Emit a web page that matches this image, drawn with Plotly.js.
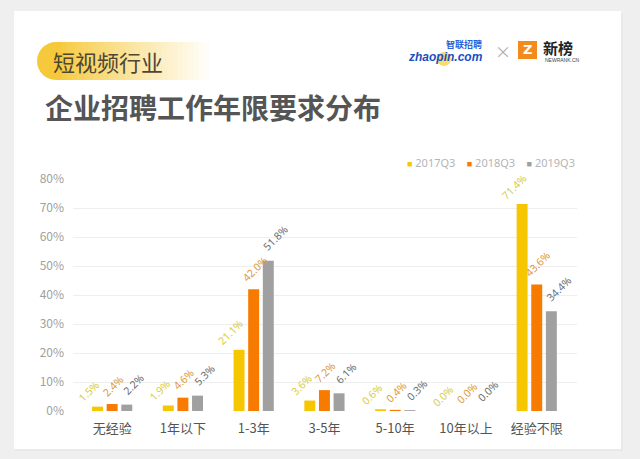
<!DOCTYPE html>
<html>
<head>
<meta charset="utf-8">
<script src="https://cdn.plot.ly/plotly-3.0.1.min.js"></script>
<style>html,body{margin:0;padding:0;background:#efefef;}#chart{width:640px;height:459px;}</style>
</head>
<body>
<div id="chart"></div>
<script>
// ---- data ----
const categories = ['无经验', '1年以下', '1-3年', '3-5年', '5-10年', '10年以上', '经验不限'];
const seriesNames = ['2017Q3', '2018Q3', '2019Q3'];
const values2017 = [1.5, 1.9, 21.1, 3.6, 0.6, 0.0, 71.4];
const values2018 = [2.4, 4.6, 42.0, 7.2, 0.4, 0.0, 43.6];
const values2019 = [2.2, 5.3, 51.8, 6.1, 0.3, 0.0, 34.4];
const yTickVals = [0, 10, 20, 30, 40, 50, 60, 70, 80];
const yTickText = ['0%', '10%', '20%', '30%', '40%', '50%', '60%', '70%', '80%'];
const headerTag = '短视频行业';
const mainTitle = '企业招聘工作年限要求分布';

// ---- styles ----
const barColors = ['#f6c700', '#f77b00', '#a0a0a0'];
const labelColors = ['#d9cd45', '#dc9a3c', '#6e6e6e'];
const labelShiftX = [-8, 1, 7];
const labelShiftY = [-1, 2, 4];
const FONT = '"Noto Sans CJK SC", "Noto Sans", sans-serif';
const W = 640, H = 459;
const M = {l: 73, r: 63, t: 179, b: 48};
const PW = W - M.l - M.r, PH = H - M.t - M.b;
const px = x => (x - M.l) / PW;
const py = y => (H - M.b - y) / PH;
const BARGAP = 0.38, GROUPGAP = 0.25;
const slot = (PW / categories.length) * (1 - BARGAP) / seriesNames.length;

const seriesValues = [values2017, values2018, values2019];
const traces = seriesValues.map((vals, i) => ({
  type: 'bar',
  name: seriesNames[i],
  x: categories,
  y: vals,
  marker: {color: barColors[i]},
  showlegend: false,
  hoverinfo: 'skip'
}));

// ---- value labels (annotations anchored to data) ----
const labelAnns = [];
seriesValues.forEach((vals, i) => {
  vals.forEach((v, j) => {
    labelAnns.push({
      x: categories[j], y: v, xref: 'x', yref: 'y',
      text: v.toFixed(1) + '%',
      textangle: -45,
      showarrow: false,
      xanchor: 'center', yanchor: 'bottom',
      xshift: (i - 1) * slot + labelShiftX[i],
      yshift: labelShiftY[i],
      font: {family: '"Noto Sans", sans-serif', size: 10.5, color: labelColors[i]}
    });
  });
});

// ---- decoration shapes ----
const shapes = [];
shapes.push({type: 'rect', xref: 'paper', yref: 'paper', x0: px(15), x1: px(623), y0: py(451), y1: py(13),
  fillcolor: '#e9e9e9', line: {width: 0}, layer: 'below'});
shapes.push({type: 'rect', xref: 'paper', yref: 'paper', x0: px(14), x1: px(621), y0: py(449), y1: py(11),
  fillcolor: '#ffffff', line: {width: 0}, layer: 'below'});
const c0 = [246, 201, 60];
shapes.push({type: 'circle', xref: 'paper', yref: 'paper', x0: px(37), x1: px(75), y0: py(80), y1: py(42),
  fillcolor: 'rgb(' + c0.join(',') + ')', line: {width: 0}, layer: 'below'});
const N = 30, gx0 = 56, gx1 = 215;
for (let k = 0; k < N; k++) {
  const t = k / (N - 1);
  const f = Math.pow(t, 0.9);
  const col = c0.map(c => Math.round(c + (255 - c) * f));
  const xa = gx0 + (gx1 - gx0) * k / N;
  const xb = gx0 + (gx1 - gx0) * (k + 1) / N + 0.6;
  shapes.push({type: 'rect', xref: 'paper', yref: 'paper', x0: px(xa), x1: px(xb), y0: py(80), y1: py(42),
    fillcolor: 'rgb(' + col.join(',') + ')', line: {width: 0}, layer: 'below'});
}
// zhaopin yellow dot
shapes.push({type: 'circle', xref: 'paper', yref: 'paper', x0: px(437), x1: px(451), y0: py(66), y1: py(52),
  fillcolor: '#f7d24a', line: {width: 0}, layer: 'below', opacity: 0.8});
// newrank orange square
shapes.push({type: 'rect', xref: 'paper', yref: 'paper', x0: px(518), x1: px(537), y0: py(59), y1: py(41),
  fillcolor: '#f28a1e', line: {width: 0}, layer: 'above'});

// ---- legend as text ----
const legendText = seriesNames.map((n, i) =>
  '<span style="color:' + barColors[i] + ';font-size:9px">■</span> ' + n).join('    ');

const annotations = labelAnns.concat([
  {text: headerTag, xref: 'paper', yref: 'paper', x: px(51), y: py(61), xanchor: 'left', yanchor: 'middle',
   showarrow: false, font: {family: FONT, size: 22, color: '#4f4634'}},
  {text: '<b>' + mainTitle + '</b>', xref: 'paper', yref: 'paper', x: px(43), y: py(107), xanchor: 'left', yanchor: 'middle',
   showarrow: false, font: {family: FONT, size: 28, color: '#555555'}},
  {text: legendText, xref: 'paper', yref: 'paper', x: px(577), y: py(162), xanchor: 'right', yanchor: 'middle',
   showarrow: false, font: {family: '"Noto Sans", sans-serif', size: 11, color: '#b4b4b4'}},
  {text: '<b>智联招聘</b>', xref: 'paper', yref: 'paper', x: px(484), y: py(44), xanchor: 'right', yanchor: 'middle',
   showarrow: false, font: {family: FONT, size: 9, color: '#2a62d8'}},
  {text: '<b><i>zhaopin.com</i></b>', xref: 'paper', yref: 'paper', x: px(485), y: py(57), xanchor: 'right', yanchor: 'middle',
   showarrow: false, font: {family: '"Liberation Sans", sans-serif', size: 12, color: '#1b4fc4'}},
  {text: '×', xref: 'paper', yref: 'paper', x: px(503), y: py(51), xanchor: 'center', yanchor: 'middle',
   showarrow: false, font: {family: FONT, size: 16, color: '#b0b0b0'}},
  {text: '<b>Z</b>', xref: 'paper', yref: 'paper', x: px(527.5), y: py(50), xanchor: 'center', yanchor: 'middle',
   showarrow: false, font: {family: '"DejaVu Sans", sans-serif', size: 13, color: '#ffffff'}},
  {text: '<b>新榜</b>', xref: 'paper', yref: 'paper', x: px(541), y: py(47), xanchor: 'left', yanchor: 'middle',
   showarrow: false, font: {family: FONT, size: 15, color: '#222222'}},
  {text: 'NEWRANK.CN', xref: 'paper', yref: 'paper', x: px(543), y: py(60), xanchor: 'left', yanchor: 'middle',
   showarrow: false, font: {family: '"Liberation Sans", sans-serif', size: 5, color: '#444444'}}
]);

const layout = {
  width: W, height: H,
  margin: M,
  paper_bgcolor: '#efefef',
  plot_bgcolor: 'rgba(0,0,0,0)',
  barmode: 'group',
  bargap: BARGAP,
  bargroupgap: GROUPGAP,
  showlegend: false,
  font: {family: FONT},
  xaxis: {
    type: 'category',
    tickfont: {family: FONT, size: 13, color: '#555555'},
    showline: false, ticks: '', showgrid: false,
    ticklabelstandoff: 8,
    fixedrange: true
  },
  yaxis: {
    range: [0, 80],
    tickvals: yTickVals,
    ticktext: yTickText,
    tickfont: {family: FONT, size: 12, color: '#a0a0a0'},
    gridcolor: '#eeeeee', gridwidth: 1,
    zeroline: false, showline: false, ticks: '',
    ticklabelstandoff: 8,
    fixedrange: true
  },
  shapes: shapes,
  annotations: annotations
};

Plotly.newPlot('chart', traces, layout, {displayModeBar: false, staticPlot: true});
</script>
</body>
</html>
